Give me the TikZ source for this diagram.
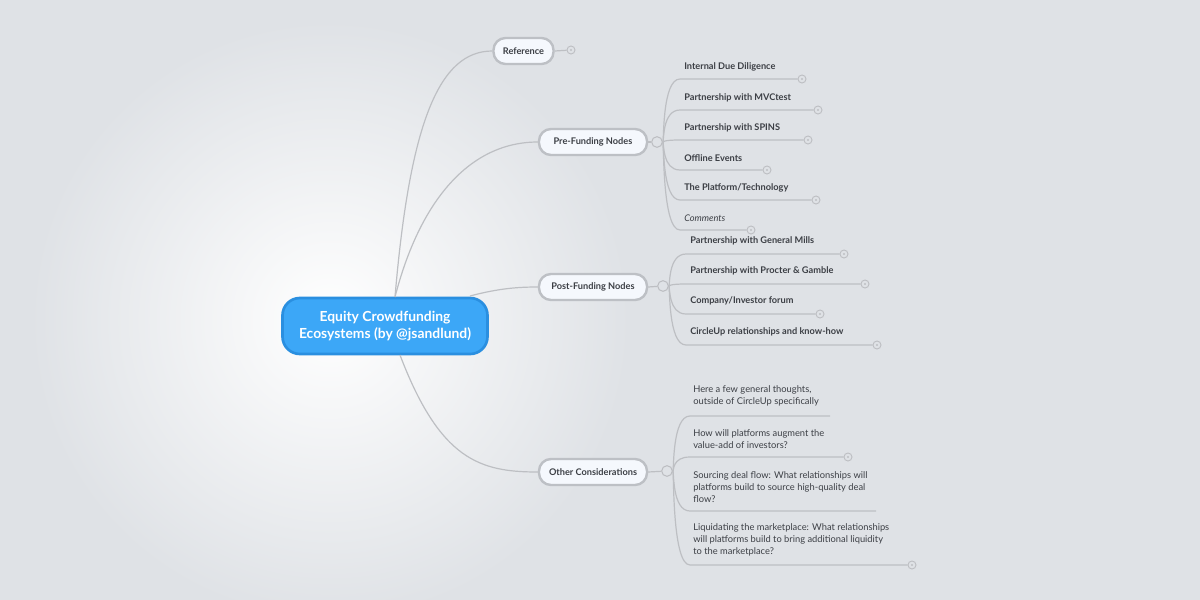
\documentclass[tikz,border=0pt]{standalone}
\usepackage{fontspec}
\setmainfont{Lato}
\begin{document}
\begin{tikzpicture}[x=0.75pt,y=-0.75pt,
  main/.style={rounded corners=13pt,fill=cmain,draw=cmainb,line width=2pt,text=white,font=\bfseries\fontsize{10.4}{12.4}\selectfont,align=center,minimum width=153.75pt,minimum height=42pt},
  topic/.style={rounded corners=9pt,fill=ctopic,draw=cborder,line width=1.8pt,font=\bfseries\fontsize{6.9}{8}\selectfont,text=ctext,minimum height=19.5pt,inner xsep=4pt},
  lab/.style={anchor=west,font=\bfseries\fontsize{6.9}{8}\selectfont,text=ctext,inner sep=0pt},
  labn/.style={anchor=north west,font=\fontsize{7}{9}\selectfont,text=ctext,align=left,inner sep=0pt},
  con/.style={draw=cline,line width=0.9pt},
  dot/.style={circle,draw=cline,fill=cbg,line width=0.7pt,minimum size=6pt,inner sep=0pt,path picture={\fill[cline] (path picture bounding box.center) circle (0.9pt);}},
  jn/.style={circle,draw=cline,fill=cbg,line width=0.8pt,minimum size=8pt,inner sep=0pt}]
\definecolor{cbg}{HTML}{DFE2E6}
\definecolor{cmain}{HTML}{3CA7F7}
\definecolor{cmainb}{HTML}{2A8FE0}
\definecolor{ctopic}{HTML}{F5F8FD}
\definecolor{cborder}{HTML}{BDC0C5}
\definecolor{ctext}{HTML}{3C3F45}
\definecolor{cline}{HTML}{BDBFC3}
\useasboundingbox (0,0) rectangle (1200,600);
\fill[cbg] (0,0) rectangle (1200,600);
\shade[inner color=white,outer color=cbg] (330,320) circle (300);
% main
\node[main] (c) at (385,326) {Equity Crowdfunding\\Ecosystems (by @jsandlund)};
\node[topic,minimum width=45pt] (ref) at (523.5,51) {Reference};
\node[topic,minimum width=81pt] (pre) at (593,142) {Pre-Funding Nodes};
\node[topic,minimum width=81pt] (post) at (593,287) {Post-Funding Nodes};
\node[topic,minimum width=81pt] (oth) at (593,472) {Other Considerations};
\coordinate (c1) at (395,297);
\coordinate (c2) at (470,296);
\coordinate (c3) at (400,355);
\draw[con] (c1) .. controls (410,120) and (440,51) .. (ref.west);
\draw[con] (c1) .. controls (420,200) and (470,142) .. (pre.west);
\draw[con] (c2) .. controls (500,288) and (520,287) .. (post.west);
\draw[con] (c3) .. controls (440,460) and (480,472) .. (oth.west);
\node[dot] (rd) at (571,50) {};
\draw[con] (ref.east) -- (rd);
% pre
\node[jn] (j1) at (657,142) {};
\draw[con] (pre.east) -- (j1);
\foreach \n/\t/\yy/\dx in {a/Internal Due Diligence/79/802,b/Partnership with MVCtest/110/818,c/Partnership with SPINS/140/808,d/Offline Events/170/767,e/The Platform\slash Technology/200/816}{
  \node[lab] (p\n) at (684,\yy-12) {\t};
  \node[dot] (pd\n) at (\dx,\yy) {};
  \draw[con] (j1) .. controls (664,142) and (662,\yy) .. (680,\yy) -- (pd\n);
}
\node[lab,font=\itshape\fontsize{6.9}{8}\selectfont] (pf) at (684,218) {Comments};
\node[dot] (pdf) at (751,230) {};
\draw[con] (j1) .. controls (664,142) and (662,230) .. (680,230) -- (pdf);
% post
\node[jn] (j2) at (663,286) {};
\draw[con] (post.east) -- (j2);
\foreach \n/\t/\yy/\dx in {a/Partnership with General Mills/254/844,b/Partnership with Procter \& Gamble/284/865,c/Company\slash Investor forum/314/820,d/CircleUp relationships and know-how/345/877}{
  \node[lab] (q\n) at (690,\yy-13) {\t};
  \node[dot] (qd\n) at (\dx,\yy) {};
  \draw[con] (j2) .. controls (670,286) and (668,\yy) .. (686,\yy) -- (qd\n);
}
% other
\node[jn] (j3) at (667,471) {};
\draw[con] (oth.east) -- (j3);
\node[labn] (oa) at (693,385) {Here a few general thoughts,\\outside of CircleUp specifically};
\coordinate (oae) at (830,416);
\draw[con] (j3) .. controls (674,471) and (672,416) .. (690,416) -- (oae);
\node[labn] (ob) at (693,429.5) {How will platforms augment the\\value-add of investors?};
\node[dot] (obd) at (848,457) {};
\draw[con] (j3) .. controls (674,471) and (672,457) .. (690,457) -- (obd);
\node[labn] (oc) at (693,471.5) {Sourcing deal flow: What relationships will\\platforms build to source high-quality deal\\flow?};
\coordinate (oce) at (876,511);
\draw[con] (j3) .. controls (674,471) and (672,511) .. (690,511) -- (oce);
\node[labn] (od) at (693,523.5) {Liquidating the marketplace: What relationships\\will platforms build to bring additional liquidity\\to the marketplace?};
\node[dot] (odd) at (912,565) {};
\draw[con] (j3) .. controls (674,471) and (672,565) .. (690,565) -- (odd);
\end{tikzpicture}
\end{document}
